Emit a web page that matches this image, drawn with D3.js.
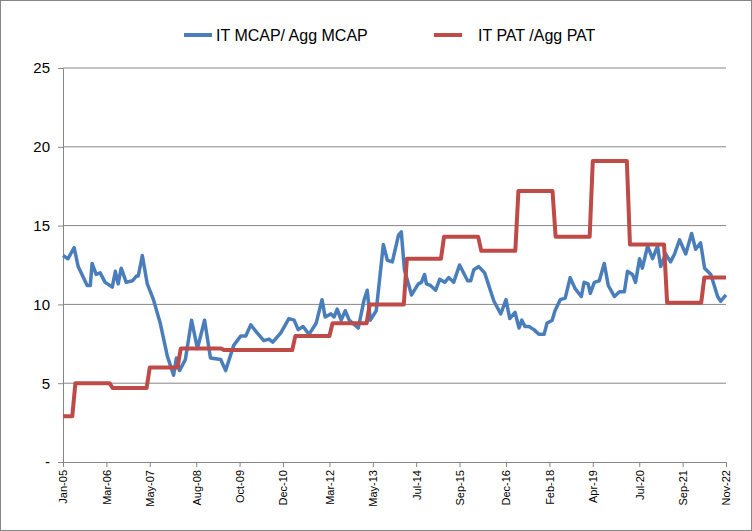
<!DOCTYPE html>
<html><head><meta charset="utf-8">
<script src="https://cdn.jsdelivr.net/npm/d3@7"></script>
<style>body{margin:0;background:#fff}svg{display:block;font-family:"Liberation Sans",Arial,sans-serif}</style>
</head><body>
<script>
// months counted from Jan-05
const tickMonths = [0, 14, 28, 43, 57, 71, 86, 100, 114, 128, 143, 157, 171, 186, 200, 214];
const tickLabels = ["Jan-05", "Mar-06", "May-07", "Aug-08", "Oct-09", "Dec-10", "Mar-12", "May-13",
    "Jul-14", "Sep-15", "Dec-16", "Feb-18", "Apr-19", "Jul-20", "Sep-21", "Nov-22"];

const mcapMonths = [0, 1.6, 3.6, 4.9, 7.8, 8.8, 9.4, 10.7, 12, 13.6, 15.9, 16.9, 17.8, 18.8, 20.4, 22.4, 23.7, 24.3,
    25.6, 27.2, 29.2, 31.4, 33.7, 35.7, 36.6, 37.6, 39.5, 41.5, 43.4, 45.7, 47.6, 50.9, 52.5, 55.1, 57.4, 59, 60.6,
    62.2, 64.8, 66.5, 67.7, 70.3, 72.9, 74.6, 75.9, 77.5, 79.4, 81.7, 83.6, 84.6, 86.5, 87.5, 88.5, 89.8, 91.1, 92.4,
    95.3, 97.2, 98.2, 99.2, 101.1, 103.4, 104.7, 106.3, 108.3, 109.2, 110.2, 112.5, 114.7, 115.7, 116.7, 117.3, 118.6,
    120.3, 121.6, 123.2, 124.5, 126.1, 128, 130.6, 131.6, 132.6, 134.2, 136.1, 139.1, 141.3, 143, 144.2, 145.9, 147.2,
    148.1, 149.1, 150.4, 152, 153.6, 155.3, 156.2, 157.9, 158.8, 160.5, 162.1, 163.7, 165.3, 167.3, 168.2, 169.5,
    170.2, 171.5, 173.1, 174.7, 176, 178, 179.6, 181.2, 182.2, 183.8, 184.8, 186.1, 187, 188.7, 190.3, 191.9, 192.9,
    194.5, 196.1, 197.4, 199, 201, 202.9, 204.2, 205.8, 207.1, 209.1, 211.3, 212.3, 214];
const mcapValues = [13.1, 12.9, 13.6, 12.4, 11.2, 11.2, 12.6, 11.9, 12.0, 11.4, 11.1, 12.1, 11.3, 12.3, 11.4, 11.5, 11.8, 11.8,
    13.1, 11.3, 10.3, 8.8, 6.7, 5.5, 6.6, 5.8, 6.5, 9.0, 7.2, 9.0, 6.6, 6.5, 5.8, 7.4, 8.0, 8.0, 8.7,
    8.3, 7.7, 7.8, 7.6, 8.2, 9.1, 9.0, 8.4, 8.6, 8.1, 8.8, 10.3, 9.2, 9.4, 9.2, 9.7, 9.0, 9.6, 9.0,
    8.5, 10.3, 10.9, 9.0, 9.6, 13.8, 12.8, 12.7, 14.4, 14.6, 12.2, 10.6, 11.3, 11.4, 11.9, 11.3, 11.2,
    10.9, 11.6, 11.4, 11.7, 11.4, 12.5, 11.5, 11.5, 12.2, 12.4, 12.0, 10.2, 9.4, 10.3, 9.1, 9.5, 8.5,
    9.0, 8.6, 8.6, 8.4, 8.1, 8.1, 8.8, 9.0, 9.6, 10.3, 10.4, 11.7, 11.0, 10.5, 11.4, 11.3,
    10.7, 11.4, 11.5, 12.6, 11.2, 10.5, 10.8, 10.8, 12.1, 11.9, 11.4, 12.9, 12.3, 13.7, 12.9, 13.7, 12.4,
    13.2, 12.7, 13.2, 14.1, 13.2, 14.5, 13.5, 13.9, 12.3, 11.9, 10.5, 10.2, 10.6];

const patMonths = [0, 3, 4, 15, 16, 27, 28, 37, 38, 51, 52, 74, 75, 86, 87, 98, 99, 110, 111, 122, 123, 134, 135,
    146, 147, 158, 159, 170, 171, 182, 183, 194, 195, 206, 207, 214];
const patValues = [2.9, 2.9, 5.0, 5.0, 4.7, 4.7, 6.0, 6.0, 7.2, 7.2, 7.1, 7.1, 8.0, 8.0, 8.8, 8.8, 10.0, 10.0, 12.9,
    12.9, 14.3, 14.3, 13.4, 13.4, 17.2, 17.2, 14.3, 14.3, 19.1, 19.1, 13.8, 13.8, 10.1, 10.1, 11.7, 11.7];

const yTicks = [0, 5, 10, 15, 20, 25];
const seriesNames = ["IT MCAP/ Agg MCAP", "IT PAT /Agg PAT"];
const colors = ["#4A7EBB", "#BE4B48"];

const W = 752, H = 531;
const svg = d3.select("body").append("svg").attr("width", W).attr("height", H);

svg.append("rect").attr("x", 0.5).attr("y", 0.5).attr("width", W - 1).attr("height", H - 1)
    .attr("fill", "#fff").attr("stroke", "#868686");

const x = d3.scaleLinear().domain([0, 214]).range([63, 726]);
const y = d3.scaleLinear().domain([0, 25]).range([462, 68]);

// gridlines
svg.append("g").selectAll("line").data(yTicks.filter(d => d > 0)).enter().append("line")
    .attr("x1", 63).attr("x2", 726).attr("y1", d => y(d)).attr("y2", d => y(d))
    .attr("stroke", "#868686").attr("stroke-width", 1);

// y axis
const yAxis = svg.append("g").attr("transform", "translate(63,0)")
    .call(d3.axisLeft(y).tickValues(yTicks).tickSize(5).tickFormat(d => d === 0 ? "-" : d));
yAxis.select(".domain").attr("stroke", "#868686");
yAxis.selectAll(".tick line").attr("stroke", "#868686");
yAxis.selectAll("text").attr("font-size", 15).attr("fill", "#000").attr("font-family", "Liberation Sans")
    .attr("x", -13);

// x axis
const xAxis = svg.append("g").attr("transform", "translate(0,462)")
    .call(d3.axisBottom(x).tickValues(tickMonths).tickSize(5).tickFormat((d, i) => tickLabels[i]));
xAxis.select(".domain").attr("stroke", "#868686");
xAxis.selectAll(".tick line").attr("stroke", "#868686");
xAxis.selectAll("text").attr("font-size", 11).attr("fill", "#000").attr("font-family", "Liberation Sans")
    .attr("transform", "rotate(-90)").attr("text-anchor", "end").attr("x", -8).attr("y", 0).attr("dy", "0.35em");

const line = d3.line().x(d => x(d[0])).y(d => y(d[1]));

svg.append("path").datum(mcapMonths.map((m, i) => [m, mcapValues[i]]))
    .attr("d", line).attr("fill", "none").attr("stroke", colors[0]).attr("stroke-width", 3.5)
    .attr("stroke-linejoin", "round");
svg.append("path").datum(patMonths.map((m, i) => [m, patValues[i]]))
    .attr("d", line).attr("fill", "none").attr("stroke", colors[1]).attr("stroke-width", 4)
    .attr("stroke-linejoin", "round");

// legend
const legend = [{ x: 184, tx: 216 }, { x: 434, tx: 478 }];
legend.forEach((l, i) => {
    svg.append("line").attr("x1", l.x).attr("x2", l.x + 28).attr("y1", 35).attr("y2", 35)
        .attr("stroke", colors[i]).attr("stroke-width", 4);
    svg.append("text").attr("x", l.tx).attr("y", 35).attr("dy", "0.35em")
        .attr("font-size", 16).text(seriesNames[i]);
});
</script>
</body></html>
